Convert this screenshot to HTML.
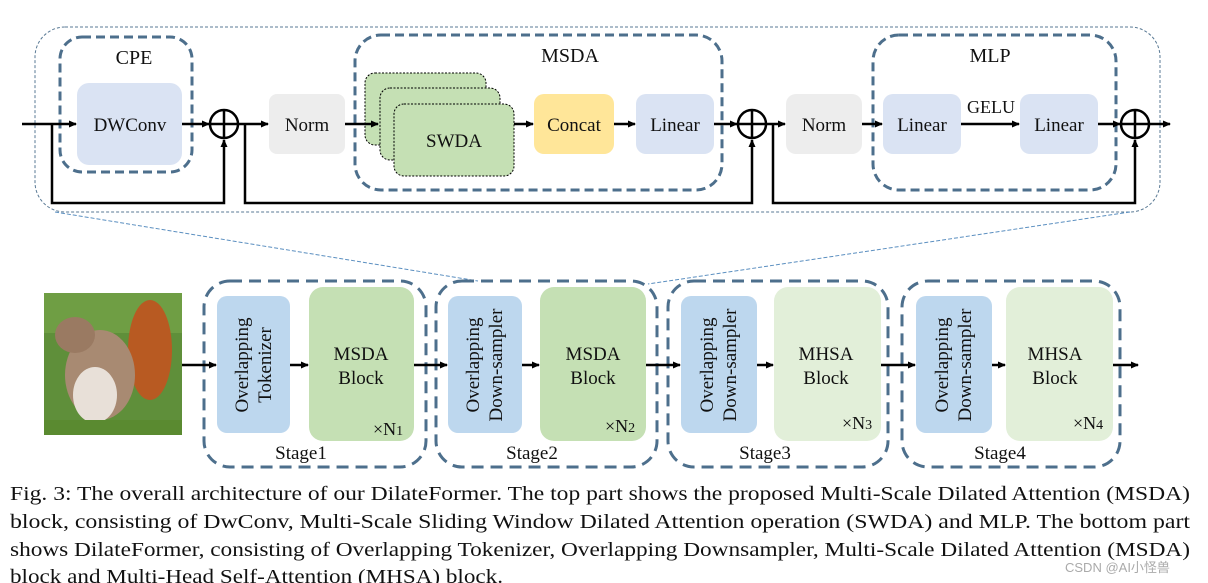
<!DOCTYPE html>
<html><head><meta charset="utf-8"><style>
html,body{margin:0;padding:0;background:#fff;}
svg{display:block;}
text{font-family:"Liberation Serif","Noto Serif CJK SC",serif;fill:#111;}
</style></head><body>
<svg width="1208" height="583" viewBox="0 0 1208 583" xmlns="http://www.w3.org/2000/svg">
<defs>
<marker id="ar" markerWidth="8" markerHeight="8" refX="7" refY="4" orient="auto" markerUnits="userSpaceOnUse"><path d="M0,0.5 L8,4 L0,7.5 Z" fill="#000"/></marker>
</defs>
<rect x="35" y="27" width="1125" height="185" rx="30" fill="none" stroke="#5a7a95" stroke-width="1" stroke-dasharray="3,2"/>
<line x1="55" y1="212" x2="478" y2="281" stroke="#5b8fc0" stroke-width="1" stroke-dasharray="4,2"/>
<line x1="1130" y1="212" x2="648" y2="284" stroke="#5b8fc0" stroke-width="1" stroke-dasharray="4,2"/>

<g fill="none" stroke="#4d6f8c" stroke-width="3" stroke-dasharray="9,5">
<rect x="60" y="37" width="132" height="135" rx="22"/>
<rect x="355" y="35" width="367" height="155" rx="26"/>
<rect x="873" y="35" width="243" height="155" rx="26"/>
</g>
<text x="134" y="64" font-size="20" text-anchor="middle">CPE</text>
<text x="570" y="62" font-size="20" text-anchor="middle">MSDA</text>
<text x="990" y="62" font-size="20" text-anchor="middle">MLP</text>

<rect x="77" y="83" width="105" height="82" rx="12" fill="#dae3f3"/>
<text x="130" y="131" font-size="19" text-anchor="middle">DWConv</text>
<rect x="269" y="94" width="76" height="60" rx="8" fill="#ededed"/>
<text x="307" y="131" font-size="19" text-anchor="middle">Norm</text>
<g fill="#c5e0b4" stroke="#000" stroke-width="1" stroke-dasharray="2,1.5">
<rect x="365" y="73" width="121" height="72" rx="10"/>
<rect x="380" y="88" width="120" height="72" rx="10"/>
<rect x="394" y="104" width="120" height="72" rx="10"/>
</g>
<text x="454" y="147" font-size="19" text-anchor="middle">SWDA</text>
<rect x="534" y="94" width="80" height="60" rx="10" fill="#ffe699"/>
<text x="574" y="131" font-size="19" text-anchor="middle">Concat</text>
<rect x="636" y="94" width="78" height="60" rx="10" fill="#dae3f3"/>
<text x="675" y="131" font-size="19" text-anchor="middle">Linear</text>
<rect x="786" y="94" width="76" height="60" rx="10" fill="#ededed"/>
<text x="824" y="131" font-size="19" text-anchor="middle">Norm</text>
<rect x="883" y="94" width="78" height="60" rx="10" fill="#dae3f3"/>
<text x="922" y="131" font-size="19" text-anchor="middle">Linear</text>
<text x="991" y="113" font-size="18" text-anchor="middle">GELU</text>
<rect x="1020" y="94" width="78" height="60" rx="10" fill="#dae3f3"/>
<text x="1059" y="131" font-size="19" text-anchor="middle">Linear</text>

<g stroke="#000" stroke-width="2.5" fill="none">
<line x1="22" y1="124" x2="76" y2="124" marker-end="url(#ar)"/>
<line x1="182" y1="124" x2="209" y2="124" marker-end="url(#ar)"/>
<line x1="238" y1="124" x2="268" y2="124" marker-end="url(#ar)"/>
<line x1="345" y1="124" x2="378" y2="124" marker-end="url(#ar)"/>
<line x1="514" y1="124" x2="533" y2="124" marker-end="url(#ar)"/>
<line x1="614" y1="124" x2="635" y2="124" marker-end="url(#ar)"/>
<line x1="714" y1="124" x2="737" y2="124" marker-end="url(#ar)"/>
<line x1="766" y1="124" x2="785" y2="124" marker-end="url(#ar)"/>
<line x1="862" y1="124" x2="882" y2="124" marker-end="url(#ar)"/>
<line x1="961" y1="124" x2="1019" y2="124" marker-end="url(#ar)"/>
<line x1="1098" y1="124" x2="1120" y2="124" marker-end="url(#ar)"/>
<line x1="1149" y1="124" x2="1170" y2="124" marker-end="url(#ar)"/>
<polyline points="52,124 52,203 224,203 224,140" marker-end="url(#ar)"/>
<polyline points="245,124 245,203 752,203 752,140" marker-end="url(#ar)"/>
<polyline points="773,124 773,203 1135,203 1135,140" marker-end="url(#ar)"/>
<circle cx="224" cy="124" r="14"/><line x1="210" y1="124" x2="238" y2="124"/><line x1="224" y1="110" x2="224" y2="138"/>
<circle cx="752" cy="124" r="14"/><line x1="738" y1="124" x2="766" y2="124"/><line x1="752" y1="110" x2="752" y2="138"/>
<circle cx="1135" cy="124" r="14"/><line x1="1121" y1="124" x2="1149" y2="124"/><line x1="1135" y1="110" x2="1135" y2="138"/>
</g>

<rect x="44" y="293" width="138" height="142" fill="#5f8f3a"/>
<rect x="44" y="293" width="138" height="40" fill="#6f9e44"/>
<ellipse cx="150" cy="350" rx="22" ry="50" fill="#b85a22"/>
<ellipse cx="100" cy="375" rx="35" ry="45" fill="#a88a72"/>
<ellipse cx="95" cy="395" rx="22" ry="28" fill="#e8e0d8"/>
<ellipse cx="75" cy="335" rx="20" ry="18" fill="#9a7a62"/>
<rect x="44" y="420" width="138" height="15" fill="#5a8a30"/>

<g fill="none" stroke="#4d6f8c" stroke-width="3" stroke-dasharray="12,7">
<rect x="204" y="281" width="222" height="186" rx="26"/>
<rect x="436" y="281" width="221" height="186" rx="26"/>
<rect x="668" y="281" width="220" height="186" rx="26"/>
<rect x="902" y="281" width="218" height="186" rx="26"/>
</g>
<rect x="217" y="296" width="73" height="137" rx="10" fill="#bdd7ee"/>
<rect x="309" y="287" width="105" height="154" rx="14" fill="#c5e0b4"/>
<rect x="448" y="296" width="74" height="137" rx="10" fill="#bdd7ee"/>
<rect x="540" y="287" width="106" height="154" rx="14" fill="#c5e0b4"/>
<rect x="681" y="296" width="76" height="137" rx="10" fill="#bdd7ee"/>
<rect x="774" y="287" width="107" height="154" rx="14" fill="#e2efd9"/>
<rect x="916" y="296" width="76" height="137" rx="10" fill="#bdd7ee"/>
<rect x="1006" y="287" width="107" height="154" rx="14" fill="#e2efd9"/>

<g font-size="19" text-anchor="middle">
<text transform="translate(254,365) rotate(-90)"><tspan x="0" y="-6">Overlapping</tspan><tspan x="0" y="17">Tokenizer</tspan></text>
<text transform="translate(485,365) rotate(-90)"><tspan x="0" y="-6">Overlapping</tspan><tspan x="0" y="17">Down-sampler</tspan></text>
<text transform="translate(719,365) rotate(-90)"><tspan x="0" y="-6">Overlapping</tspan><tspan x="0" y="17">Down-sampler</tspan></text>
<text transform="translate(954,365) rotate(-90)"><tspan x="0" y="-6">Overlapping</tspan><tspan x="0" y="17">Down-sampler</tspan></text>
<text x="361" y="360">MSDA</text><text x="361" y="384">Block</text>
<text x="593" y="360">MSDA</text><text x="593" y="384">Block</text>
<text x="826" y="360">MHSA</text><text x="826" y="384">Block</text>
<text x="1055" y="360">MHSA</text><text x="1055" y="384">Block</text>
<text x="301" y="459">Stage1</text>
<text x="532" y="459">Stage2</text>
<text x="765" y="459">Stage3</text>
<text x="1000" y="459">Stage4</text>
</g>
<g font-size="18">
<text x="373" y="435">×N<tspan font-size="14">1</tspan></text>
<text x="605" y="432">×N<tspan font-size="14">2</tspan></text>
<text x="842" y="429">×N<tspan font-size="14">3</tspan></text>
<text x="1073" y="429">×N<tspan font-size="14">4</tspan></text>
</g>
<g stroke="#000" stroke-width="2.5">
<line x1="182" y1="365" x2="216" y2="365" marker-end="url(#ar)"/>
<line x1="290" y1="365" x2="308" y2="365" marker-end="url(#ar)"/>
<line x1="414" y1="365" x2="447" y2="365" marker-end="url(#ar)"/>
<line x1="522" y1="365" x2="539" y2="365" marker-end="url(#ar)"/>
<line x1="646" y1="365" x2="680" y2="365" marker-end="url(#ar)"/>
<line x1="757" y1="365" x2="773" y2="365" marker-end="url(#ar)"/>
<line x1="881" y1="365" x2="915" y2="365" marker-end="url(#ar)"/>
<line x1="992" y1="365" x2="1005" y2="365" marker-end="url(#ar)"/>
<line x1="1113" y1="365" x2="1138" y2="365" marker-end="url(#ar)"/>
</g>

<g font-size="20">
<text x="10" y="500" textLength="1180" lengthAdjust="spacingAndGlyphs">Fig. 3: The overall architecture of our DilateFormer. The top part shows the proposed Multi-Scale Dilated Attention (MSDA)</text>
<text x="10" y="528" textLength="1180" lengthAdjust="spacingAndGlyphs">block, consisting of DwConv, Multi-Scale Sliding Window Dilated Attention operation (SWDA) and MLP. The bottom part</text>
<text x="10" y="556" textLength="1180" lengthAdjust="spacingAndGlyphs">shows DilateFormer, consisting of Overlapping Tokenizer, Overlapping Downsampler, Multi-Scale Dilated Attention (MSDA)</text>
<text x="10" y="583" textLength="493" lengthAdjust="spacingAndGlyphs">block and Multi-Head Self-Attention (MHSA) block.</text>
</g>
<text x="1065" y="572" font-size="13" style="fill:#aaa;font-family:'Liberation Sans','Noto Sans CJK SC',sans-serif">CSDN @AI小怪兽</text>
</svg>
</body></html>
